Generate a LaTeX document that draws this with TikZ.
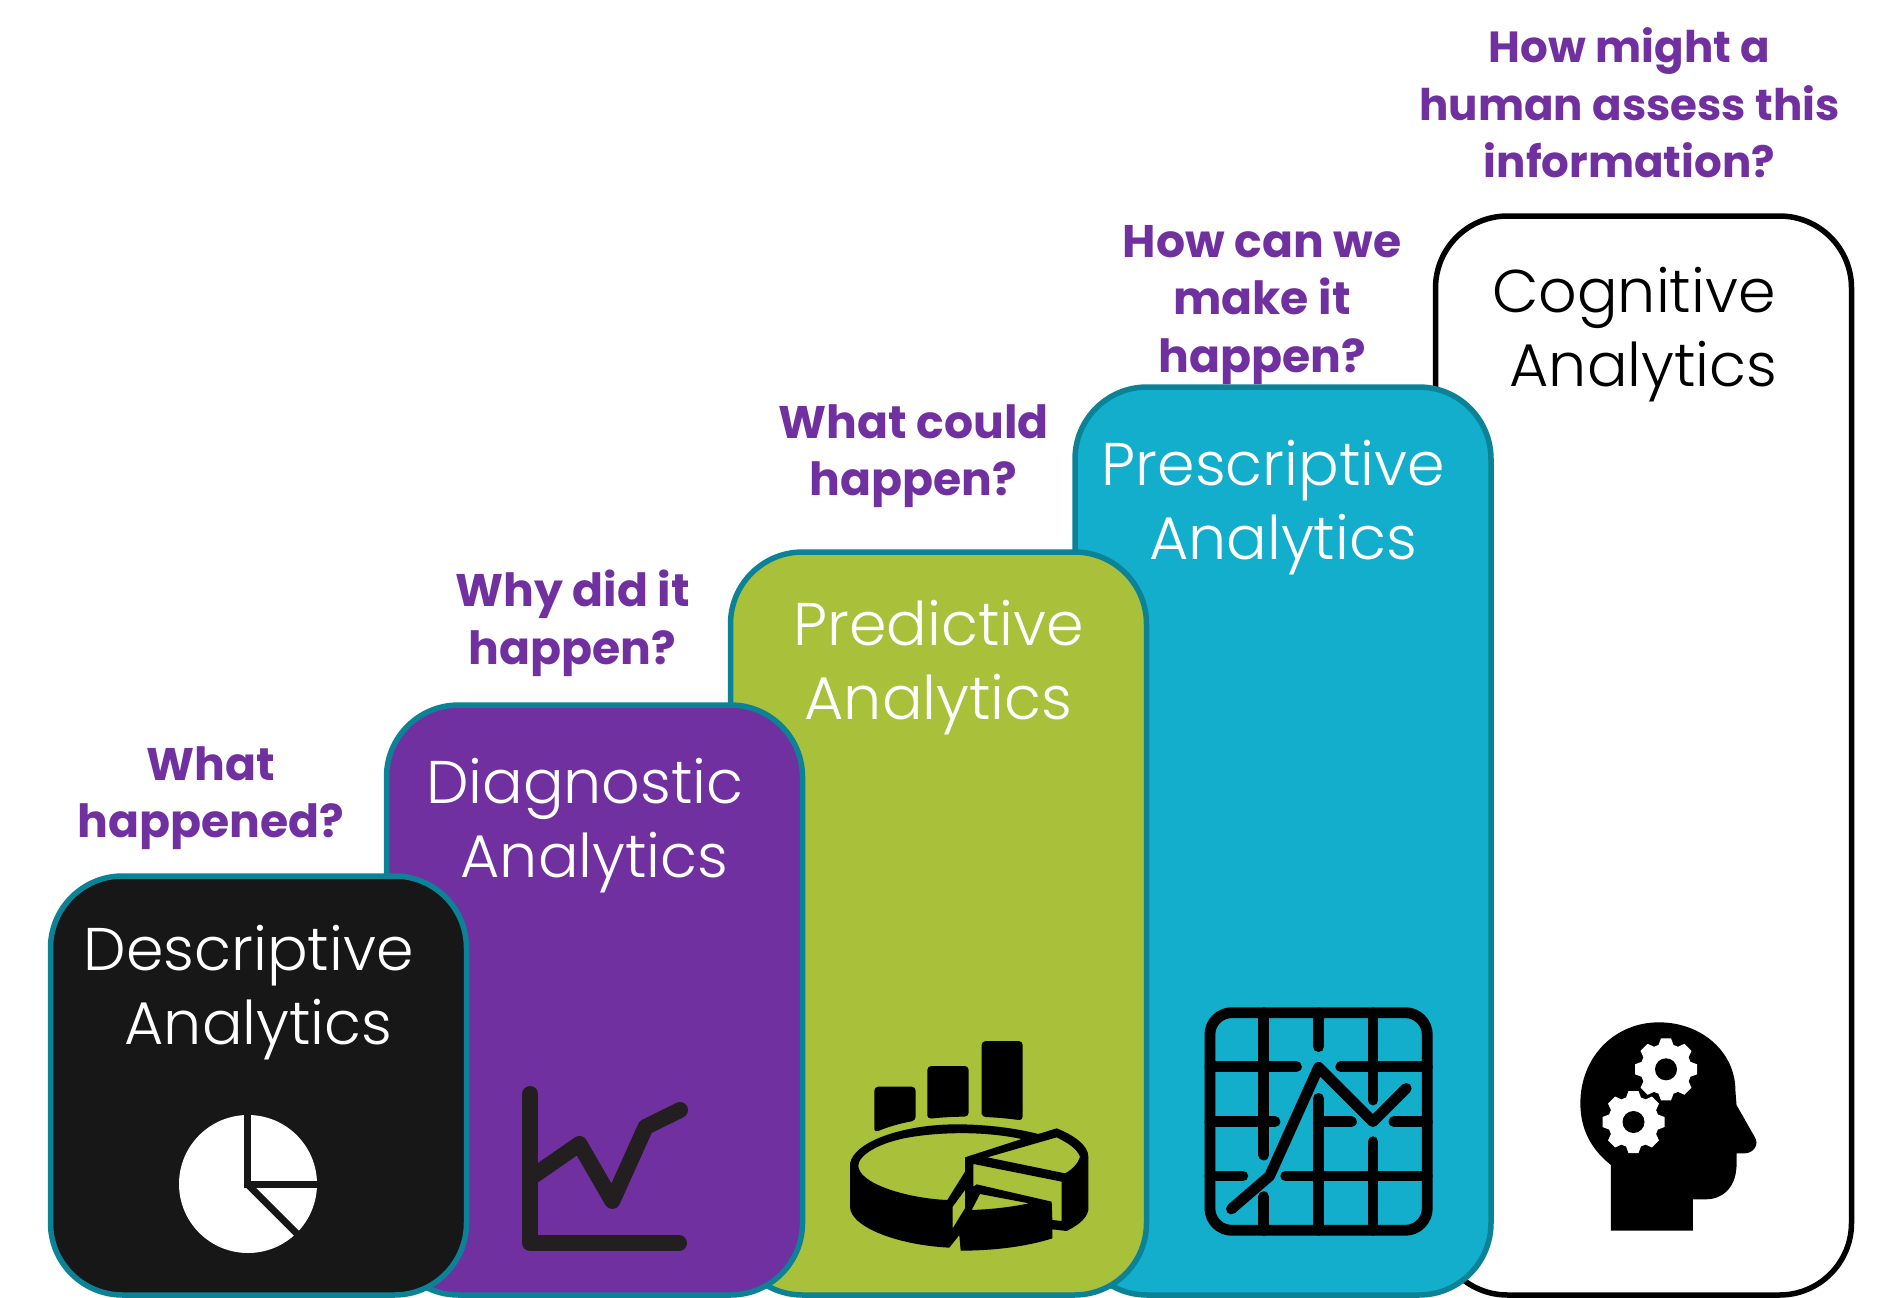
\documentclass[tikz,border=0pt]{standalone}
\usepackage{fontspec}
\setmainfont{Poppins}
\newfontfamily\titlefont{Poppins Light}
\usepackage{tikz}
\usetikzlibrary{calc,positioning}
\definecolor{tealedge}{HTML}{0B8296}
\definecolor{nearblack}{HTML}{171717}
\definecolor{violet}{HTML}{7030A0}
\definecolor{lime}{HTML}{A9C03A}
\definecolor{cyanfill}{HTML}{12AECB}
\definecolor{chartgray}{HTML}{231F20}
\tikzstyle{tab}=[rectangle,rounded corners=7.2mm,line width=.55mm,draw=tealedge,minimum width=41.6mm,inner sep=0pt,outer sep=0pt,anchor=south west]
\tikzstyle{dbox}=[tab,fill=nearblack,minimum height=41.9mm]
\tikzstyle{gbox}=[tab,fill=violet,minimum height=59mm]
\tikzstyle{pbox}=[tab,fill=lime,minimum height=74.3mm]
\tikzstyle{sbox}=[tab,fill=cyanfill,minimum height=90.8mm]
\tikzstyle{cbox}=[tab,fill=white,draw=black,minimum height=107.9mm]
\tikzset{
	title/.style={align=center,inner sep=0pt,font=\titlefont\fontsize{17.15}{21.2}\selectfont},
	ask/.style={align=center,inner sep=0pt,text=violet,font=\bfseries\fontsize{13}{16.4}\selectfont},
	gridline/.style={line width=1.08mm,line cap=round,line join=round}
}
\newcommand{\gap}{\hspace*{5.5pt}}
\newcommand{\gearicon}[2]{
	\fill[white] (#1,#2) circle (25.5);
	\foreach \a in {0,45,...,315}
		\fill[white,shift={(#1,#2)},rotate=\a] (-5,-31) -- (5,-31) -- (8,-23) -- (-8,-23) -- cycle;
	\fill[black] (#1,#2) circle (11);
}
\begin{document}
\begin{tikzpicture}[x=.1mm,y=-.1mm]
	\useasboundingbox (0,0) rectangle (1880,1298);
	\node (cogn) [cbox] at (1435.5,1295) {};
	\node (pres) [sbox] at (1075,1295) {};
	\node (pred) [pbox] at (730.5,1295) {};
	\node (diag) [gbox] at (386.5,1295) {};
	\node (desc) [dbox] at (50.5,1295) {};
	\node (tdesc) [title,text=white] at ($(desc.north)+(0,116.5)$) {Descriptive\gap\\Analytics};
	\node (tdiag) [title,text=white] at ($(diag.north)+(0,120.5)$) {Diagnostic\gap\\Analytics};
	\node (tpred) [title,text=white] at ($(pred.north)+(0,115.5)$) {Predictive\\Analytics};
	\node (tpres) [title,text=white] at ($(pres.north)+(0,120.5)$) {Prescriptive\gap\\Analytics};
	\node (tcogn) [title,text=black] at ($(cogn.north)+(0,118.5)$) {Cognitive\gap\\Analytics};
	\node (qdesc) [ask] at ($(desc.north)+(-48,-78)$) {What\\happened?};
	\node (qdiag) [ask] at ($(diag.north)+(-22,-82)$) {Why did it\\happen?};
	\node (qpred) [ask] at ($(pred.north)+(-25,-96)$) {What could\\happen?};
	\node (qpres) [ask] at ($(pres.north)+(-21,-82)$) {How can we\\make it\\happen?};
	\node (qcogn) [ask,font=\bfseries\fontsize{12.4}{16.4}\selectfont] at ($(cogn.north)+(-14,-113)$) {How might a\\human assess this\\information?};
	\fill[white] (248,1184) circle (69);
	\draw[nearblack,line width=.7mm] (247.6,1100) -- (247.6,1184.4) -- (330,1184.4);
	\draw[nearblack,line width=.7mm] (248,1184.7) -- (320,1256.7);
	\draw[chartgray,line width=1.6mm,line cap=round,line join=round] (530.4,1094) -- (530.4,1243.3) -- (679,1243.3);
	\draw[chartgray,line width=1.6mm,line cap=round,line join=round] (530.4,1178) -- (579.4,1144) -- (612.3,1201) -- (645.6,1127) -- (680,1110);
	\begin{scope}[shift={(830,1020)},scale=1/3]
		\fill[black,rounded corners=.4mm] (133,338) -- (133,200) -- (257,200) -- (257,302) .. controls (210,310) and (170,322) .. (133,338) -- cycle;
		\fill[black,rounded corners=.4mm] (292,297) -- (292,138) -- (416,138) -- (416,290) .. controls (375,290) and (335,292) .. (292,297) -- cycle;
		\fill[black,rounded corners=.4mm] (455,291) -- (455,63) -- (578,63) -- (578,302) .. controls (540,296) and (495,292) .. (455,291) -- cycle;
		\fill[black,even odd rule] (60,430) .. controls (75,360) and (230,313) .. (380,313) .. controls (470,313) and (560,325) .. (625,342) -- (680,325) .. controls (730,345) and (775,375) .. (775,410) -- (775,570) .. controls (770,600) and (735,620) .. (710,633) -- (667,628) -- (667,655) .. controls (590,680) and (490,692) .. (392,692) -- (388,645) -- (358,683) .. controls (200,675) and (60,620) .. (60,560) -- cycle
			(575,357) .. controls (470,335) and (350,335) .. (250,350) .. controls (150,365) and (85,405) .. (85,437) .. controls (85,490) and (230,535) .. (352,540) -- (405,455) -- (405,412) -- cycle
			(472,412) -- (680,352) .. controls (715,370) and (740,385) .. (750,410) .. controls (745,430) and (725,450) .. (705,460) -- cycle
			(430,432) -- (695,485) -- (695,603) -- (667,600) -- (665,545) -- (440,493) -- (430,500) -- cycle
			(450,522) -- (597,550) .. controls (540,562) and (480,568) .. (425,570) -- cycle
			(368,560) -- (405,510) -- (405,565) -- (368,625) -- cycle;
	\end{scope}
	\begin{scope}[shift={(1190,990)},xscale=.3827,yscale=.3333]
		\draw[line width=1.08mm,rounded corners=2.2mm] (52,68) rectangle (620,721);
		\draw[gridline] (193,68) -- (193,495) (193,620) -- (193,721);
		\draw[gridline] (336,68) -- (336,170) (336,325) -- (336,721);
		\draw[gridline] (478,68) -- (478,330) (478,455) -- (478,721);
		\draw[gridline] (52,230) -- (278,230) (394,230) -- (620,230);
		\draw[gridline] (52,395) -- (222,395) (336,395) -- (422,395) (533,395) -- (620,395);
		\draw[gridline] (52,558) -- (138,558) (250,558) -- (620,558);
		\draw[gridline] (108,657) -- (208,558) -- (336,232) -- (478,395) -- (565,295);
		\fill[black] (1100,722) -- (1100,525) .. controls (1050,480) and (1020,420) .. (1020,340) .. controls (1020,200) and (1110,97) .. (1225,97) .. controls (1340,97) and (1425,190) .. (1425,300) -- (1428,345) -- (1475,440) .. controls (1490,465) and (1470,490) .. (1450,490) -- (1428,490) -- (1428,530) .. controls (1425,600) and (1385,628) .. (1350,628) -- (1314,628) -- (1314,722) -- cycle;
	\end{scope}
	\gearicon{1666}{1069.3}
	\gearicon{1633.5}{1122}
\end{tikzpicture}
\end{document}
